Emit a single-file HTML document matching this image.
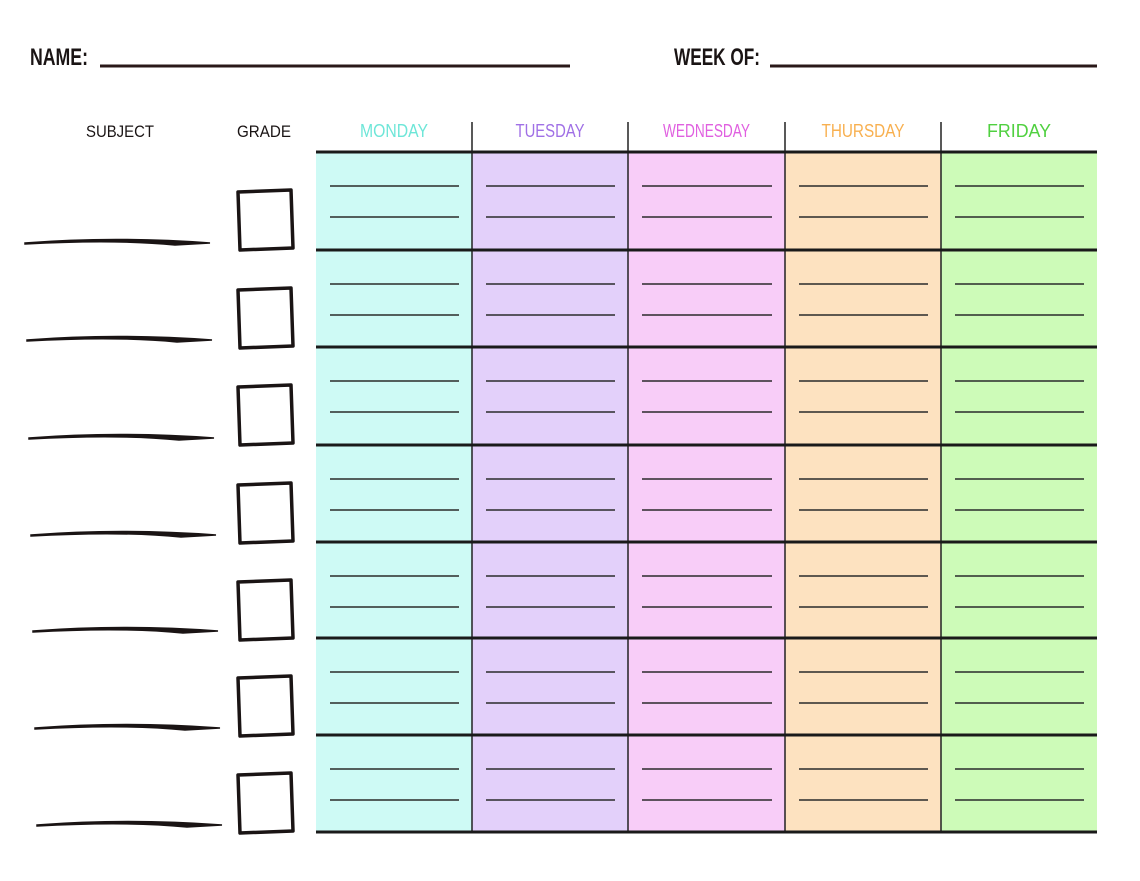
<!DOCTYPE html>
<html><head><meta charset="utf-8"><style>
html,body{margin:0;padding:0;background:#fff;}
svg{display:block;}
</style></head><body>
<svg width="1140" height="881" viewBox="0 0 1140 881" xmlns="http://www.w3.org/2000/svg">
  <g>
    <text x="30" y="65" font-family="Liberation Sans Narrow, Liberation Sans, sans-serif" font-weight="bold" font-size="24" fill="#1a1414" textLength="58" lengthAdjust="spacingAndGlyphs">NAME:</text>
    <line x1="100" y1="66" x2="570" y2="66" stroke="#2a1818" stroke-width="3"/>
    <text x="674" y="65" font-family="Liberation Sans Narrow, Liberation Sans, sans-serif" font-weight="bold" font-size="24" fill="#1a1414" textLength="86" lengthAdjust="spacingAndGlyphs">WEEK OF:</text>
    <line x1="770" y1="66" x2="1097" y2="66" stroke="#2a1818" stroke-width="3"/>
  </g>
  <g font-family="Liberation Sans Narrow, Liberation Sans, sans-serif" font-size="17">
    <text x="86" y="137" fill="#1a1414" textLength="68" lengthAdjust="spacingAndGlyphs">SUBJECT</text>
    <text x="237" y="137" fill="#1a1414" textLength="54" lengthAdjust="spacingAndGlyphs">GRADE</text>
  </g>
  <g id="grid"></g>
</svg>
<script>
const days = ['MONDAY','TUESDAY','WEDNESDAY','THURSDAY','FRIDAY'];
const fills = ['#cefaf5','#e3d0fa','#f8cdf8','#fde2c0','#cdfbb8'];
const textCols = ['#6ee6d8','#a070e6','#e060e0','#f8b050','#50d040'];
const headW = [68,69,87,83,64];
const rowTops = [152,250,347,445,542,638,735,832];
const colX = [316,472,628,785,941,1097];
const NS='http://www.w3.org/2000/svg';
const g=document.getElementById('grid');
function mk(t,a){const e=document.createElementNS(NS,t);for(const k in a)e.setAttribute(k,a[k]);g.appendChild(e);return e;}
for(let c=0;c<5;c++){
  const r=mk('rect',{x:colX[c],y:rowTops[0],width:colX[c+1]-colX[c],height:rowTops[7]-rowTops[0],fill:fills[c]});
  
  
  const t=mk('text',{x:(colX[c]+colX[c+1])/2,y:137,fill:textCols[c],'font-family':'Liberation Sans Narrow, Liberation Sans, sans-serif','font-size':18,'text-anchor':'middle',textLength:headW[c],lengthAdjust:'spacingAndGlyphs'});
  t.textContent=days[c];
  
  
  for(let r2=0;r2<7;r2++){
    for(const off of [34,65]){
      const l=mk('line',{x1:colX[c]+14,x2:colX[c+1]-13,y1:rowTops[r2]+off,y2:rowTops[r2]+off,stroke:'#2a2a2a','stroke-width':1.5});
      
      
    }
  }
}
for(let c=1;c<5;c++){
  const v=mk('line',{x1:colX[c],x2:colX[c],y1:122,y2:rowTops[7],stroke:'#222','stroke-width':1.5});
  
  
}
for(let r=0;r<8;r++){
  const h=mk('line',{x1:316,x2:1097,y1:rowTops[r],y2:rowTops[r],stroke:'#1a1a1a','stroke-width':3});
  
  
}
for(let r=0;r<7;r++){
  const y=rowTops[r+1]-7;
  const x0=25+r*2;
  const s=mk('path',{d:`M${x0} ${y} Q${x0+90} ${y-7} ${x0+185} ${y} L${x0+150} ${y+2} Q${x0+90} ${y-4} ${x0} ${y+1} Z`,fill:'#1a1414',stroke:'#1a1414','stroke-width':1.5});
  
  
  const by=rowTops[r]+38;
  const b=mk('path',{d:`M${238} ${by+2} L${291} ${by} L${293} ${by+58} L${240} ${by+60} Z`,fill:'none',stroke:'#1a1414','stroke-width':3.5,'stroke-linejoin':'round'});
  
  
}
</script>
</body></html>
